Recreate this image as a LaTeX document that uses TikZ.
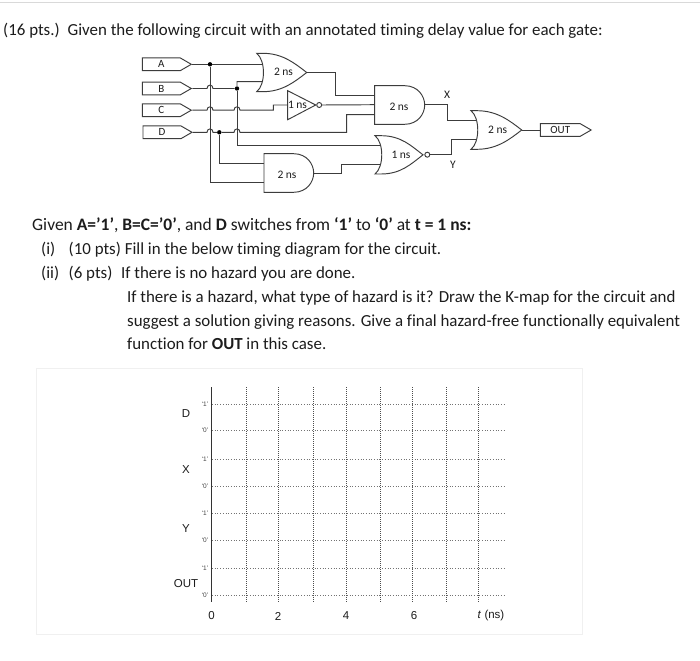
\documentclass[tikz,border=0pt]{standalone}
\usepackage{fontspec}
\setmainfont[Ligatures=NoCommon]{Carlito}
\newfontfamily\arialf{Liberation Sans}
\usetikzlibrary{shapes.symbols}
\newcommand\hop[2]{-- (#1-3,#2) .. controls (#1-3,#2-4.5) and (#1+3,#2-4.5) .. (#1+3,#2)}
% or-shaped outline: left, top, bottom, tip x, back depth
\newcommand\orshape[5]{(#1,#2) -- (#1+6,#2) .. controls (#1+26,#2) and (#4-12,#2+10) .. (#4,{(#2+#3)/2}) .. controls (#4-12,#3-10) and (#1+26,#3) .. (#1+6,#3) -- (#1,#3) .. controls (#1+#5+3,#3-7) and (#1+#5+3,#2+7) .. (#1,#2) -- cycle}
\newcommand\andshape[4]{(#1,#2) -- (#4-20,#2) .. controls (#4-7,#2) and (#4,{(#2+#3)/2-9}) .. (#4,{(#2+#3)/2}) .. controls (#4,{(#2+#3)/2+9}) and (#4-7,#3) .. (#4-20,#3) -- (#1,#3) -- cycle}
\definecolor{wire}{HTML}{3C3C3C}
\definecolor{ink}{HTML}{1C1C1C}
\tikzset{
  gate/.style={draw=wire,line width=0.95pt,fill=white},
  wirep/.style={draw=wire,line width=0.95pt},
  sig/.style={signal,signal to=east,signal pointer angle=60,draw=wire,line width=0.95pt,minimum width=49pt,minimum height=12.7pt,inner sep=0pt,font=\fontsize{11}{11}\selectfont,text=ink},
  dot/.style={circle,fill=black,inner sep=0pt,minimum size=4.4pt},
  bubble/.style={circle,draw=wire,fill=white,line width=0.95pt,inner sep=0pt,minimum size=5pt},
  glabel/.style={font=\fontsize{11.5}{11.5}\selectfont,text=ink,inner sep=0pt},
  para/.style={anchor=base west,font=\fontsize{16.9}{17}\selectfont,text=ink,inner sep=0pt},
  vgrid/.style={draw=black!70,line width=0.9pt,dash pattern=on 1pt off 1pt},
  hgrid/.style={draw=black!55,line width=0.9pt,dash pattern=on 1pt off 1.7pt},
  tlabel/.style={font=\arialf\fontsize{11.5}{12}\selectfont,text=ink,inner sep=0pt},
  tiny/.style={font=\arialf\fontsize{6.5}{7}\selectfont,text=black!75,inner sep=0pt},
}
\begin{document}
\begin{tikzpicture}[x=1pt,y=-1pt]
\useasboundingbox (0,0) rectangle (700,660);
\fill[white] (0,0) rectangle (700,660);
\draw[black!15,line width=0.8pt] (0,2.5) -- (700,2.5);
% ---------- text ----------
\node[para] (t0) at (3,35.7) {(16 pts.)\, Given the following circuit with an annotated timing delay value for each gate:};
\node[para,font=\fontsize{17.5}{18}\selectfont] (t1) at (32,230.7) {Given \textbf{A=’1’}, \textbf{B=C=’0’}, and \textbf{D} switches from \textbf{‘1’} to \textbf{‘0’} at \textbf{t = 1 ns:}};
\node[para] (t2) at (41,254.5) {(i)};
\node[para] (t2b) at (68.5,254.5) {(10 pts) Fill in the below timing diagram for the circuit.};
\node[para] (t3) at (41,278.5) {(ii)};
\node[para] (t3b) at (68.5,278.5) {(6 pts)};
\node[para] (t3c) at (121,278.5) {If there is no hazard you are done.};
\node[para] (t4) at (127,302.3) {If there is a hazard, what type of hazard is it? Draw the K-map for the circuit and};
\node[para] (t5) at (127,326.3) {suggest a solution giving reasons. Give a final hazard-free functionally equivalent};
\node[para] (t6) at (127,349) {function for \textbf{OUT} in this case.};
% ---------- circuit: terminals ----------
\node[sig] (A) at (161.3,64.3) {A};
\node[sig] (B) at (161.3,88.5) {B};
\node[sig] (C) at (161.3,110.2) {C};
\node[sig] (D) at (162,132.3) {D};
\node[sig,minimum width=50.7pt] (OUT) at (560.3,130) {OUT};
% pins
\coordinate (or1a) at (263,64.3);
\coordinate (or1b) at (263,81.7);
\coordinate (or1o) at (306.7,72.3);
\coordinate (notI) at (287.7,105);
\coordinate (an2a) at (374.7,95);
\coordinate (an2b) at (374.7,104.7);
\coordinate (an2c) at (374.7,114.7);
\coordinate (an2o) at (424.7,104.7);
\coordinate (an3a) at (264,163.3);
\coordinate (an3b) at (264,182.7);
\coordinate (an3o) at (313.7,173);
\coordinate (noa) at (380,145);
\coordinate (nob) at (380,164.3);
\coordinate (or2a) at (477,120.3);
\coordinate (or2b) at (477,139.3);
\coordinate (or2o) at (521.7,130);
% junctions
\node[dot] (jA) at (210,64.3) {};
\node[dot] (jB) at (237,88.5) {};
\node[dot] (jD) at (219.3,132.3) {};
% wires
\draw[wirep] (A.east) -- (jA) -- (or1a);
\draw[wirep] (jA) -- (210,182.7) -- (an3b);
\draw[wirep] (B.east) \hop{210}{88.5} -- (jB) -- (237,81.7) -- (or1b);
\draw[wirep] (jB) -- (237,145) -- (noa);
\draw[wirep] (C.east) \hop{210}{110.2} \hop{237}{110.2} -- (273.3,110.2) -- (273.3,105) -- (notI);
\draw[wirep] (D.east) \hop{210}{132.3} -- (jD) \hop{237}{132.3} -- (346.7,132.3) -- (346.7,114.7) -- (an2c);
\draw[wirep] (jD) -- (219.3,163.3) -- (an3a);
\draw[wirep] (or1o) -- (335,72.3) -- (335,95) -- (an2a);
\draw[wirep] (322,105) -- (an2b);
\draw[wirep] (an3o) -- (341,173) -- (341,164.3) -- (nob);
\draw[wirep] (an2o) -- (447.3,104.7) -- (447.3,120.3) -- (or2a);
\draw[wirep] (429.8,154.7) -- (451.3,154.7) -- (451.3,139.3) -- (or2b);
\draw[wirep] (or2o) -- (OUT.west);
% gates
\path[gate] \orshape{256.7}{53.3}{91.7}{306.7}{6};
\path[gate] (287.7,90.7) -- (315.7,105) -- (287.7,119.7) -- cycle;
\node[bubble] (nb) at (319.2,105) {};
\path[gate] \andshape{374.7}{85.7}{124.3}{424.7};
\path[gate] \andshape{264}{153.7}{192.3}{313.7};
\path[gate] \orshape{375}{135.7}{174}{423}{6};
\node[bubble] (nob2) at (427.3,154.7) {};
\path[gate] \orshape{471}{110.7}{149.3}{521.7}{6};
% gate labels
\node[glabel] (l1) at (283.5,71.5) {2 ns};
\node[glabel] (l2) at (297.5,105) {1 ns};
\node[glabel] (l3) at (287,175) {2 ns};
\node[glabel] (l4) at (399,107) {2 ns};
\node[glabel] (l5) at (401,155) {1 ns};
\node[glabel] (l6) at (497.7,130) {2 ns};
\node[glabel] (lX) at (447,95) {X};
\node[glabel] (lY) at (453,165) {Y};
% ---------- timing grid ----------
\draw[black!6,line width=0.8pt,fill=white] (36,368) rectangle (582,634);
\foreach \y in {404,430,459,486,513,540,568,595}
  \draw[hgrid] (212,\y) -- (506,\y);
\foreach \x in {246,278,313,346,380,412,446,478}
  \draw[vgrid] (\x,387) -- (\x,602);
\draw[black!80,line width=1pt] (211.5,387) -- (211.5,602);
\foreach \n/\y/\s in {a/404/1,b/430/0,c/459/1,d/486/0,e/513/1,f/540/0,g/568/1,h/595/0}
  \node[tiny] (v\n) at (205,\y) {‘\s’};
\node[tlabel] (sD) at (186,414) {D};
\node[tlabel] (sX) at (186,470) {X};
\node[tlabel] (sY) at (186,529) {Y};
\node[tlabel] (sO) at (186,584) {OUT};
\node[tlabel] (x0) at (211.5,616) {0};
\node[tlabel] (x2) at (278,616) {2};
\node[tlabel] (x4) at (346,616) {4};
\node[tlabel] (x6) at (414,616) {6};
\node[tlabel] (xt) at (491,616) {\textit{t} (ns)};
\end{tikzpicture}
\end{document}
